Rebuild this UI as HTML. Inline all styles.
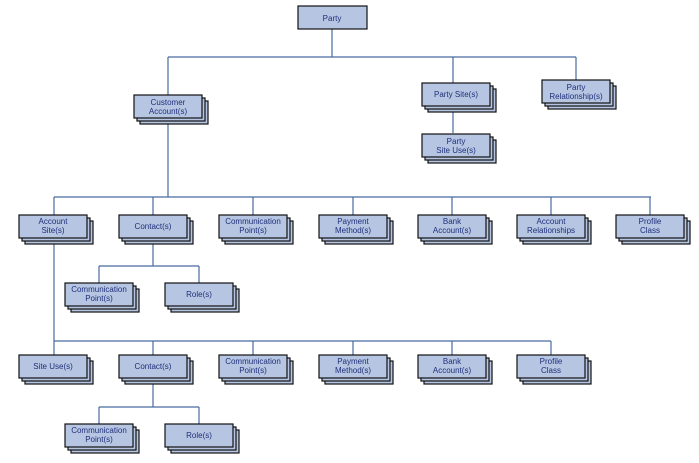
<!DOCTYPE html>
<html><head><style>
html,body{margin:0;padding:0;background:#fff;}
svg{display:block;}
text{font-family:"Liberation Sans",Arial,sans-serif;font-size:8px;fill:#1f2f7a;text-anchor:middle;}
</style></head><body>
<svg width="699" height="463" viewBox="0 0 699 463" xmlns="http://www.w3.org/2000/svg">
<g stroke="#4a6aa0" stroke-width="1.2" fill="none">
<path d="M332 29V57M168 57H576M168 57V95M453 57V83M576 57V80M453 105V133"/>
<path d="M168 118V197M54 197H651M54 197V215M153 197V215M253 197V215M353 197V215M452 197V215M551 197V215M650 197V215"/>
<path d="M153 238V266M99 266H199M99 266V283M199 266V283"/>
<path d="M54 238V341M54 341H551M54 341V355M153 341V355M253 341V355M353 341V355M452 341V355M551 341V355"/>
<path d="M153 378V407M99 407H199M99 407V424M199 407V424"/>
</g>
<defs>
<g id="stk">
<rect x="6" y="6" width="68" height="23" fill="#b6c6e2" stroke="#111" stroke-width="1.2"/>
<rect x="3" y="3" width="68" height="23" fill="#b6c6e2" stroke="#111" stroke-width="1.2"/>
<rect x="0" y="0" width="68" height="23" fill="#b6c6e2" stroke="#111" stroke-width="1.2"/>
</g>
</defs>
<rect x="298" y="6" width="69" height="23" fill="#b6c6e2" stroke="#111" stroke-width="1.2"/>
<text x="332" y="21">Party</text>

<use href="#stk" x="134" y="95"/><text x="168" y="105">Customer</text><text x="168" y="114">Account(s)</text>
<use href="#stk" x="422" y="83"/><text x="456" y="97">Party Site(s)</text>
<use href="#stk" x="542" y="80"/><text x="576" y="90">Party</text><text x="576" y="99">Relationship(s)</text>
<use href="#stk" x="422" y="134"/><text x="456" y="144">Party</text><text x="456" y="153">Site Use(s)</text>

<use href="#stk" x="19" y="215"/><text x="53" y="224">Account</text><text x="53" y="233">Site(s)</text>
<use href="#stk" x="119" y="215"/><text x="153" y="229">Contact(s)</text>
<use href="#stk" x="219" y="215"/><text x="253" y="224">Communication</text><text x="253" y="233">Point(s)</text>
<use href="#stk" x="319" y="215"/><text x="353" y="224">Payment</text><text x="353" y="233">Method(s)</text>
<use href="#stk" x="418" y="215"/><text x="452" y="224">Bank</text><text x="452" y="233">Account(s)</text>
<use href="#stk" x="517" y="215"/><text x="551" y="224">Account</text><text x="551" y="233">Relationships</text>
<use href="#stk" x="616" y="215"/><text x="650" y="224">Profile</text><text x="650" y="233">Class</text>

<use href="#stk" x="65" y="283"/><text x="99" y="292">Communication</text><text x="99" y="301">Point(s)</text>
<use href="#stk" x="165" y="283"/><text x="199" y="297">Role(s)</text>

<use href="#stk" x="19" y="355"/><text x="53" y="369">Site Use(s)</text>
<use href="#stk" x="119" y="355"/><text x="153" y="369">Contact(s)</text>
<use href="#stk" x="219" y="355"/><text x="253" y="364">Communication</text><text x="253" y="373">Point(s)</text>
<use href="#stk" x="319" y="355"/><text x="353" y="364">Payment</text><text x="353" y="373">Method(s)</text>
<use href="#stk" x="418" y="355"/><text x="452" y="364">Bank</text><text x="452" y="373">Account(s)</text>
<use href="#stk" x="517" y="355"/><text x="551" y="364">Profile</text><text x="551" y="373">Class</text>

<use href="#stk" x="65" y="424"/><text x="99" y="433">Communication</text><text x="99" y="442">Point(s)</text>
<use href="#stk" x="165" y="424"/><text x="199" y="438">Role(s)</text>
</svg>
</body></html>
